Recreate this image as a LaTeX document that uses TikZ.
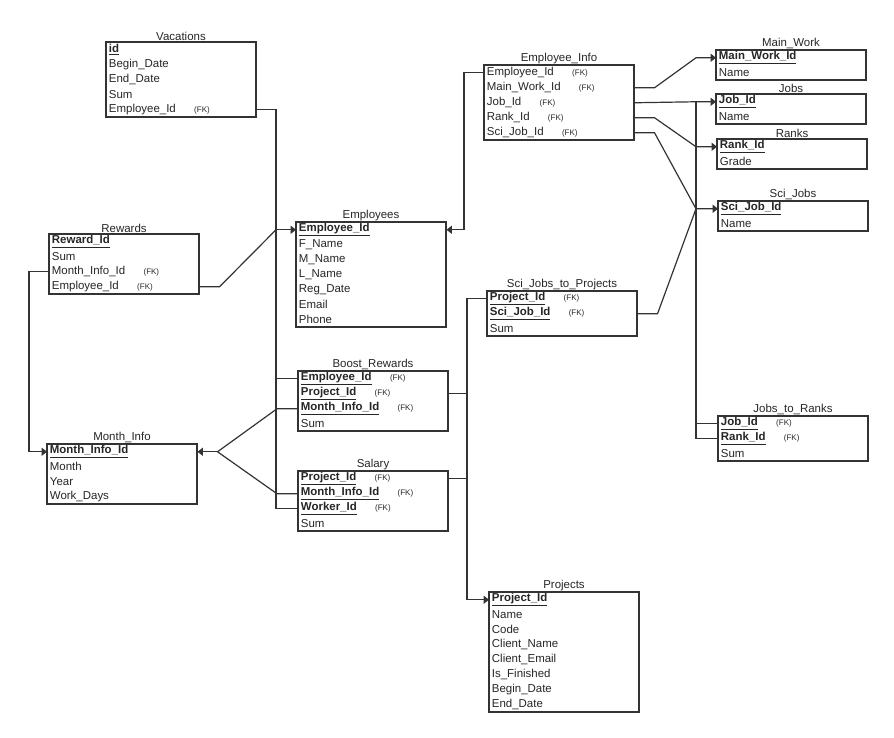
\documentclass[tikz,border=0pt]{standalone}
\usepackage{fontspec}
\setmainfont{Liberation Sans}
\usetikzlibrary{arrows.meta,calc}
\newcommand\pk[1]{\underline{\textbf{#1}}}
\newcommand\fkm{\hspace{1.6em}{\fontsize{6}{7}\selectfont(FK)}}
\newcommand\ertable[5]{%
  \foreach \t [count=\i] in {#5} {
    \node[row] (#1-\i) at (#2,#3+\i*15-15) {\t};
    \xdef\nrows{\i}}
  \draw[boxline] (#2,#3) rectangle (#2+150,#3+\nrows*15);
  \node[ttl] (#1) at (#2+75,#3) {#4};
}
\begin{document}
\begin{tikzpicture}[x=0.75pt,y=-0.75pt,
  row/.style={anchor=north west,inner xsep=2pt,inner ysep=0pt,text width=108.5pt,
    minimum height=11.25pt,align=left,font=\fontsize{8.6}{10}\selectfont,text=black!85},
  ttl/.style={anchor=south,inner sep=1pt,font=\fontsize{8.6}{10}\selectfont,text=black!85},
  boxline/.style={draw=black!80,line width=0.9pt},
  con/.style={draw=black!80,line width=0.9pt},
  arr/.style={con,-{Triangle[length=4pt,width=6pt]}}]
\useasboundingbox (0,0) rectangle (894,738);
\ertable{vac}{106}{42}{Vacations}{\pk{id},Begin\_Date,End\_Date,Sum,Employee\_Id\fkm}
\ertable{emp}{296}{222}{Employees}{\pk{Employee\_Id},F\_Name,M\_Name,L\_Name,Reg\_Date,Email,Phone}
\ertable{rew}{49}{234}{Rewards}{\pk{Reward\_Id},Sum,Month\_Info\_Id\fkm,Employee\_Id\fkm}
\ertable{mi}{47}{444}{Month\_Info}{\pk{Month\_Info\_Id},Month,Year,Work\_Days}
\ertable{br}{298}{371}{Boost\_Rewards}{\pk{Employee\_Id}\fkm,\pk{Project\_Id}\fkm,\pk{Month\_Info\_Id}\fkm,Sum}
\ertable{sal}{298}{471}{Salary}{\pk{Project\_Id}\fkm,\pk{Month\_Info\_Id}\fkm,\pk{Worker\_Id}\fkm,Sum}
\ertable{ei}{484}{65}{Employee\_Info}{Employee\_Id\fkm,Main\_Work\_Id\fkm,Job\_Id\fkm,Rank\_Id\fkm,Sci\_Job\_Id\fkm}
\ertable{mw}{716}{50}{Main\_Work}{\pk{Main\_Work\_Id},Name}
\ertable{jb}{716}{94}{Jobs}{\pk{Job\_Id},Name}
\ertable{rk}{717}{139}{Ranks}{\pk{Rank\_Id},Grade}
\ertable{sj}{718}{201}{Sci\_Jobs}{\pk{Sci\_Job\_Id},Name}
\ertable{sjp}{487}{291}{Sci\_Jobs\_to\_Projects}{\pk{Project\_Id}\fkm,\pk{Sci\_Job\_Id}\fkm,Sum}
\ertable{jr}{718}{416}{Jobs\_to\_Ranks}{\pk{Job\_Id}\fkm,\pk{Rank\_Id}\fkm,Sum}
\ertable{pr}{489}{592}{Projects}{\pk{Project\_Id},Name,Code,Client\_Name,Client\_Email,Is\_Finished,Begin\_Date,End\_Date}
% left cluster
\coordinate (jL) at ($(emp-1.west)+(-20,0)$);
\draw[arr] (vac-5.east) -| (jL) -- (emp-1.west);
\draw[con] (rew-4.east) -- ++(20,0) -- (jL);
\draw[con] (jL) |- (br-1.west);
\draw[con] (jL) |- (sal-3.west);
\draw[arr] (rew-3.west) -- ++(-20,0) |- (mi-1.west);
\coordinate (mL) at ($(mi-1.east)+(20,0)$);
\draw[arr] (mL) -- (mi-1.east);
\draw[con] (mL) -- ($(br-3.west)+(-21,0)$) -- (br-3.west);
\draw[con] (mL) -- ($(sal-2.west)+(-21,0)$) -- (sal-2.west);
% projects
\coordinate (pL) at ($(pr-1.west)+(-22,0)$);
\draw[arr] (br-2.east) -| (pL) -- (pr-1.west);
\draw[con] (sal-1.east) -| (pL);
\draw[con] (sjp-1.west) -| (pL);
% employee info
\draw[arr] (ei-1.west) -- ++(-20,0) |- (emp-1.east);
\coordinate (rL) at ($(jb-1.west)+(-20,0)$);
\draw[arr] (ei-2.east) -- ++(20,0) -- ($(mw-1.west)+(-20,0)$) -- (mw-1.west);
\draw[arr] (ei-3.east) -- (rL) -- (jb-1.west);
\draw[arr] (ei-4.east) -- ++(20,0) -- ($(rk-1.west)+(-21,0)$) -- (rk-1.west);
\draw[arr] (ei-5.east) -- ++(20,0) -- ($(sj-1.west)+(-22,0)$) -- (sj-1.west);
\draw[con] (sjp-2.east) -- ++(20,0) -- ($(sj-1.west)+(-22,0)$);
\draw[con] (rL) |- (jr-1.west);
\draw[con] (rL) |- (jr-2.west);
\end{tikzpicture}
\end{document}
